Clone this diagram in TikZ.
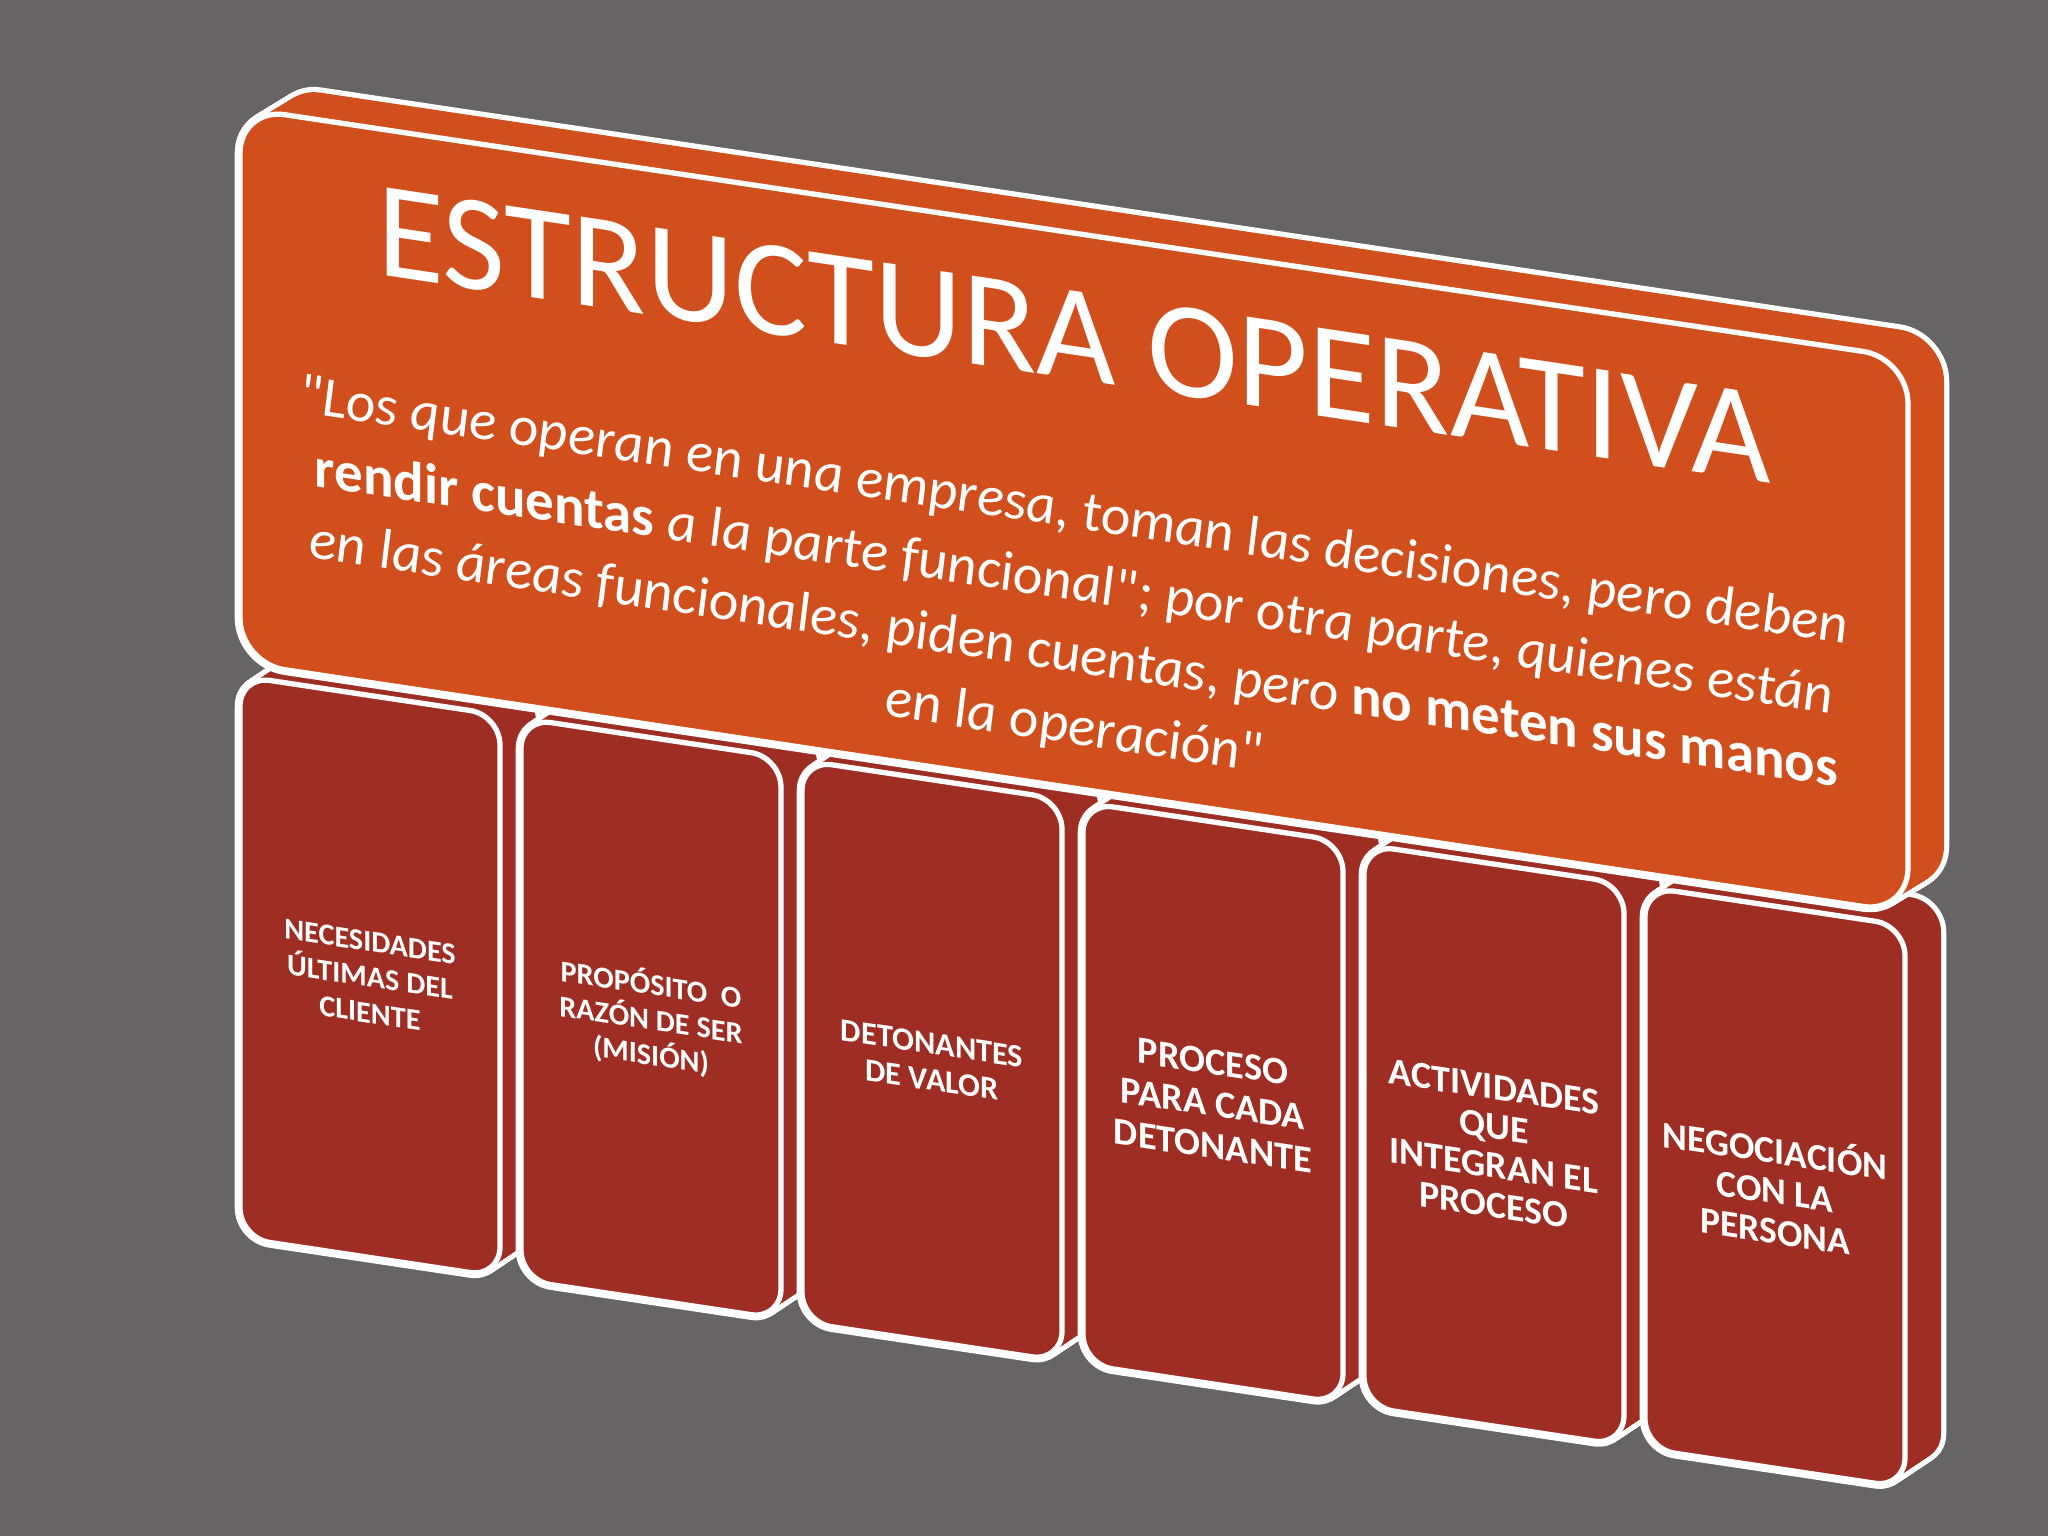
\documentclass[tikz,border=0pt]{standalone}
\usepackage{fontspec}
\setmainfont{Carlito}[Ligatures=TeXOff]

\definecolor{bggray}{RGB}{103,100,101}
\definecolor{opOrange}{RGB}{209,79,29}
\definecolor{opRed}{RGB}{158,46,35}

\tikzset{
  slant/.style={cm={1,-0.15,0,1,(0,0)}},
  rim/.style={draw=white, line width=3pt},
  face/.style={draw=white, line width=1.5pt},
  boxlabel/.style={transform shape, text=white, align=center},
}

% extruded rounded slab: x, y, width, height, radius, colour, depth x, depth y
\newcommand{\slab}[8]{%
  \foreach \i in {0,...,20} {
    \begin{scope}[shift={({#1+\i/20*#7},{#2+\i/20*#8})}, slant]
      \draw[rim, rounded corners=#5] (0,0) -- (#3,0) -- (#3,-#4) -- (0,-#4) -- cycle;
    \end{scope}
  }
  \foreach \i in {0,...,20} {
    \begin{scope}[shift={({#1+\i/20*#7},{#2+\i/20*#8})}, slant]
      \fill[#6, rounded corners=#5] (0,0) -- (#3,0) -- (#3,-#4) -- (0,-#4) -- cycle;
    \end{scope}
  }
  \begin{scope}[shift={(#1,#2)}, slant]
    \draw[face, fill=#6, rounded corners=#5] (0,0) -- (#3,0) -- (#3,-#4) -- (0,-#4) -- cycle;
  \end{scope}
}

\begin{document}
\begin{tikzpicture}
    % Background
    \fill[bggray] (0,0) rectangle (20.48,-15.36);
    \useasboundingbox (0,0) rectangle (20.48,-15.36);

    % Columns
    \foreach \k in {0,...,5} {
      \slab{2.40+2.81*\k}{-6.76-0.15*2.81*\k}{2.60}{5.62}{0.30cm}{opRed}{0.36}{0.24}
    }

    % Top slab
    \slab{2.40}{-1.08}{16.68}{5.55}{0.45cm}{opOrange}{0.36}{0.22}

    % Labels for the columns
    \begin{scope}[shift={(2.40,-6.76)}, slant]
      \node[boxlabel, font=\fontsize{8.6}{10.2}\selectfont\bfseries] (lab1) at (1.30,-2.82) {NECESIDADES\\ÚLTIMAS DEL\\CLIENTE};
      \node[boxlabel, font=\fontsize{8.6}{10}\selectfont\bfseries] (lab2) at (4.11,-2.82) {PROPÓSITO~ O\\RAZÓN DE SER\\(MISIÓN)};
      \node[boxlabel, font=\fontsize{9.2}{10.4}\selectfont\bfseries] (lab3) at (6.92,-2.82) {DETONANTES\\DE VALOR};
      \node[boxlabel, font=\fontsize{10.9}{12}\selectfont\bfseries] (lab4) at (9.73,-2.82) {PROCESO\\PARA CADA\\DETONANTE};
      \node[boxlabel, font=\fontsize{10.8}{11.2}\selectfont\bfseries] (lab5) at (12.54,-2.82) {ACTIVIDADES\\QUE\\INTEGRAN EL\\PROCESO};
      \node[boxlabel, font=\fontsize{10.7}{11.4}\selectfont\bfseries] (lab6) at (15.35,-2.82) {NEGOCIACIÓN\\CON LA\\PERSONA};
    \end{scope}

    % Title and quote
    \begin{scope}[shift={(2.40,-1.08)}, slant]
      \node[boxlabel, anchor=base, font=\fontsize{39}{44}\selectfont] (title) at (8.34,-1.46) {ESTRUCTURA OPERATIVA};
      \node[boxlabel, anchor=base, font=\fontsize{16.2}{19}\selectfont\itshape] (q1) at (8.34,-2.95) {"Los que operan en una empresa, toman las decisiones, pero deben};
      \node[boxlabel, anchor=base, font=\fontsize{16.2}{19}\selectfont\itshape] (q2) at (8.34,-3.67) {\textbf{\upshape rendir cuentas} a la parte funcional"; por otra parte, quienes están};
      \node[boxlabel, anchor=base, font=\fontsize{16.2}{19}\selectfont\itshape] (q3) at (8.34,-4.39) {en las áreas funcionales, piden cuentas, pero \textbf{\upshape no meten sus manos}};
      \node[boxlabel, anchor=base, font=\fontsize{16.2}{19}\selectfont\itshape] (q4) at (8.34,-5.11) {en la operación"};
    \end{scope}
\end{tikzpicture}
\end{document}
